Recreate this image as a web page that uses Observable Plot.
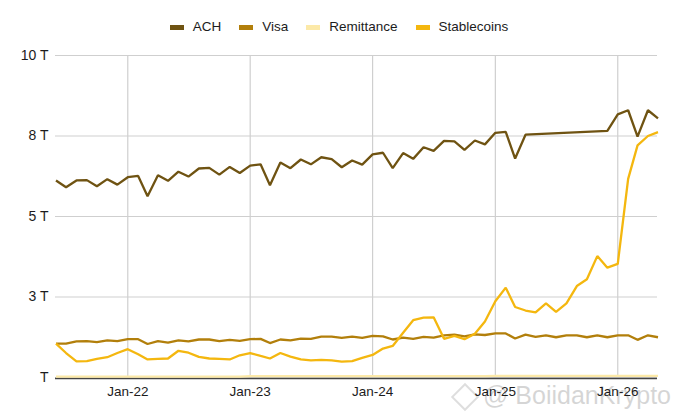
<!DOCTYPE html>
<html>
<head>
<meta charset="utf-8">
<script src="https://cdn.jsdelivr.net/npm/d3@7"></script>
<script src="https://cdn.jsdelivr.net/npm/@observablehq/plot@0.6"></script>
<style>
html,body{margin:0;padding:0;background:#fff;font-family:"Liberation Sans",Arial,sans-serif}
#wrap{position:relative;width:679px;height:420px;overflow:hidden}
#legend{height:40px;display:flex;justify-content:center;align-items:flex-start;padding-top:19px;box-sizing:border-box;font-size:13.5px;color:#1c1c1c;line-height:16px;padding-right:1px}
#legend span.i{display:flex;align-items:center;margin:0 9px}
#legend span.s{display:inline-block;width:14px;height:5px;margin-right:9px}
#mark{position:absolute;left:483px;top:381px;font-size:25px;color:#000;opacity:.16;white-space:nowrap}
#logo{position:absolute;left:455px;top:387px;width:16px;height:16px;border:2px solid #000;opacity:.13;transform:rotate(45deg)}
svg{display:block}
</style>
</head>
<body>
<div id="wrap">
<div id="legend"></div>
<div id="chart"></div>
<div id="logo"></div>
<div id="mark">@ BoiidanKrypto</div>
</div>
<script>
const seriesNames = ["ACH", "Visa", "Remittance", "Stablecoins"];
const seriesColors = ["#6f5312", "#b27f0b", "#fce9a8", "#f4b70f"];
const yTicks = [0, 2.5, 5, 7.5, 10];
const yLabels = ["T", "3 T", "5 T", "8 T", "10 T"];
const xTickDates = ["2022-01-01", "2023-01-01", "2024-01-01", "2025-01-01", "2026-01-01"];
const xLabels = ["Jan-22", "Jan-23", "Jan-24", "Jan-25", "Jan-26"];
const firstMonth = "2021-06-01";
const lastMonth = "2026-05-01";

const ach = [
  6.12,5.91,6.12,6.13,5.94,6.16,5.99,
  6.22,6.26,5.63,6.28,6.11,6.39,6.24,6.49,6.51,6.30,6.54,6.35,
  6.58,6.62,5.97,6.68,6.50,6.77,6.62,6.84,6.78,6.53,6.74,6.61,
  6.93,6.98,6.50,6.97,6.79,7.15,7.04,7.35,7.33,7.07,7.36,7.24,
  7.60,7.63,6.80,7.54,null,null,null,null,null,null,null,7.66,
  8.17,8.30,7.48,8.30,8.05
];
const visa = [
  1.05,1.05,1.12,1.13,1.10,1.15,1.13,
  1.19,1.19,1.04,1.13,1.08,1.15,1.12,1.18,1.18,1.13,1.17,1.14,
  1.19,1.20,1.07,1.18,1.15,1.21,1.20,1.27,1.27,1.23,1.27,1.23,
  1.29,1.28,1.18,1.24,1.20,1.26,1.24,1.31,1.33,1.28,1.34,1.32,
  1.37,1.37,1.21,1.33,1.26,1.31,1.25,1.31,1.31,1.25,1.31,1.25,
  1.31,1.31,1.17,1.31,1.25
];
const remittance = [
  0.03,0.03,0.03,0.03,0.03,0.03,0.03,
  0.03,0.03,0.03,0.03,0.03,0.03,0.03,0.03,0.03,0.03,0.03,0.03,
  0.04,0.04,0.04,0.04,0.04,0.04,0.04,0.04,0.04,0.04,0.04,0.04,
  0.04,0.04,0.04,0.04,0.04,0.04,0.04,0.04,0.04,0.04,0.04,0.04,
  0.05,0.05,0.05,0.05,0.05,0.05,0.05,0.05,0.05,0.05,0.05,0.05,
  0.05,0.05,0.05,0.05,0.05
];
const stablecoins = [
  1.05,0.76,0.50,0.51,0.58,0.63,0.76,
  0.88,0.72,0.56,0.58,0.59,0.83,0.77,0.64,0.59,0.58,0.56,0.69,
  0.76,0.67,0.59,0.76,0.65,0.56,0.53,0.55,0.53,0.49,0.51,0.61,
  0.70,0.90,0.98,1.39,1.78,1.86,1.87,1.20,1.29,1.19,1.36,1.74,
  2.37,2.79,2.19,2.08,2.02,2.30,2.04,2.30,2.84,3.05,3.77,3.41,
  3.53,6.17,7.21,7.50,7.62
];
const allSeries = [ach, visa, remittance, stablecoins];

const months = d3.utcMonth.range(new Date(firstMonth), d3.utcMonth.offset(new Date(lastMonth), 1));
const lines = allSeries.map((vals, k) =>
  Plot.line(
    months.map((d, i) => ({date: d, value: vals[i]})).filter(r => r.value != null),
    {x: "date", y: "value", stroke: seriesColors[k], strokeWidth: 2.3, strokeLinejoin: "miter", strokeLinecap: "butt", curve: "linear"}
  )
);

const xt = xTickDates.map(d => new Date(d));
const chart = Plot.plot({
  width: 679,
  height: 380,
  marginLeft: 55,
  marginRight: 22,
  marginTop: 15,
  marginBottom: 43,
  style: {fontFamily: '"Liberation Sans",Arial,sans-serif', fontSize: "13px", color: "#1c1c1c", background: "#fff"},
  x: {type: "utc", domain: [new Date(firstMonth), new Date(lastMonth)], range: [55.5, 657.5]},
  y: {domain: [0, 10]},
  marks: [
    Plot.gridX(xt, {stroke: "#cfcfcf", strokeOpacity: 1, strokeWidth: 1.2}),
    Plot.gridY(yTicks, {stroke: "#cfcfcf", strokeOpacity: 1, strokeWidth: 1.2}),
    Plot.axisX(xt, {tickSize: 0, tickPadding: 9, label: null, fontSize: 13.5, tickFormat: d => xLabels[xt.findIndex(t => +t === +d)]}),
    Plot.axisY(yTicks, {tickSize: 0, tickPadding: 7, label: null, fontSize: 14, tickFormat: d => yLabels[yTicks.indexOf(d)]}),
    Plot.ruleY([0], {stroke: "#444", strokeWidth: 1.3, dy: 1}),
    ...lines
  ]
});
document.getElementById("chart").appendChild(chart);

const lg = d3.select("#legend");
seriesNames.forEach((n, k) => {
  const it = lg.append("span").attr("class", "i");
  it.append("span").attr("class", "s").style("background", seriesColors[k]);
  it.append("span").text(n);
});
</script>
</body>
</html>
